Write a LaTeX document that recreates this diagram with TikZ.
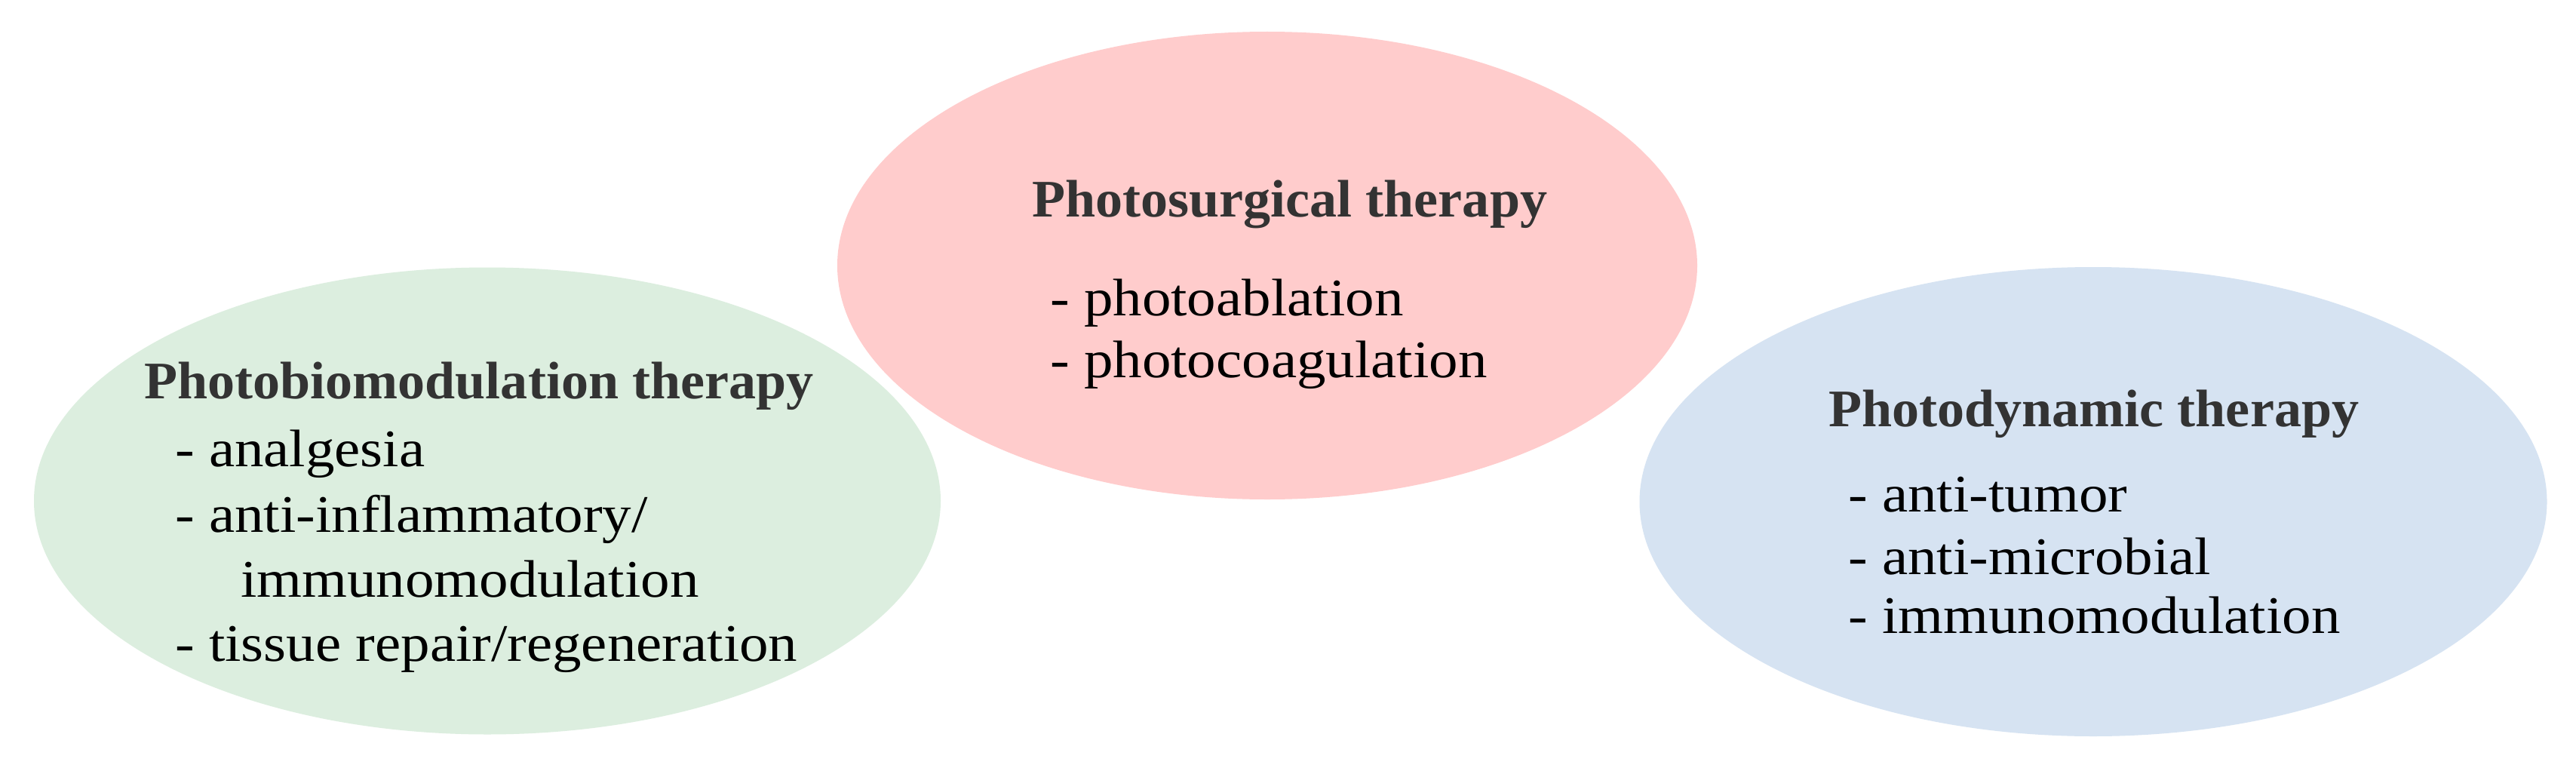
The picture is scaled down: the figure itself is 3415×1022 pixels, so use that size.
\documentclass[tikz,border=0pt]{standalone}
\usepackage{fontspec}
\setmainfont{Liberation Serif}
\newfontfamily\itemfont[FakeStretch=1.1]{Liberation Serif}
\newfontfamily\headfont[FakeStretch=1.03]{Liberation Serif}
\usetikzlibrary{shapes.geometric}
\definecolor{greenfill}{RGB}{220,238,223}
\definecolor{pinkfill}{RGB}{255,204,204}
\definecolor{bluefill}{RGB}{214,227,242}
\definecolor{headgray}{RGB}{51,51,51}
\tikzset{
  blob/.style={ellipse, draw=none, inner sep=0pt, outer sep=0pt},
  heading/.style={anchor=base west, inner sep=0pt, text=headgray,
    font=\headfont\fontsize{70}{80}\selectfont\bfseries},
  item/.style={anchor=base west, inner sep=0pt, text=black,
    font=\itemfont\fontsize{70}{80}\selectfont},
}
\begin{document}
\begin{tikzpicture}[x=1pt,y=-1pt]
\useasboundingbox[fill=white] (0,0) rectangle (3415,1022);
% ellipses
\node[blob, fill=greenfill, minimum width=1202pt, minimum height=619pt] (green) at (646,664) {};
\node[blob, fill=pinkfill, minimum width=1140pt, minimum height=620pt] (pink) at (1680,352) {};
\node[blob, fill=bluefill, minimum width=1203pt, minimum height=622pt] (blue) at (2775,665) {};
% green texts
\node[heading] (gh) at (191,528) {Photobiomodulation therapy};
\node[item] (g1) at (232,618) {- analgesia};
\node[item] (g2) at (232,705) {- anti-inflammatory/};
\node[item] (g3) at (319,791) {immunomodulation};
\node[item] (g4) at (232,876) {- tissue repair/regeneration};
% pink texts
\node[heading] (ph) at (1368,287) {Photosurgical therapy};
\node[item] (p1) at (1392,418) {- photoablation};
\node[item] (p2) at (1392,500) {- photocoagulation};
% blue texts
\node[heading] (bh) at (2424,565) {Photodynamic therapy};
\node[item] (b1) at (2450,678) {- anti-tumor};
\node[item] (b2) at (2450,761) {- anti-microbial};
\node[item] (b3) at (2450,839) {- immunomodulation};
\end{tikzpicture}
\end{document}
